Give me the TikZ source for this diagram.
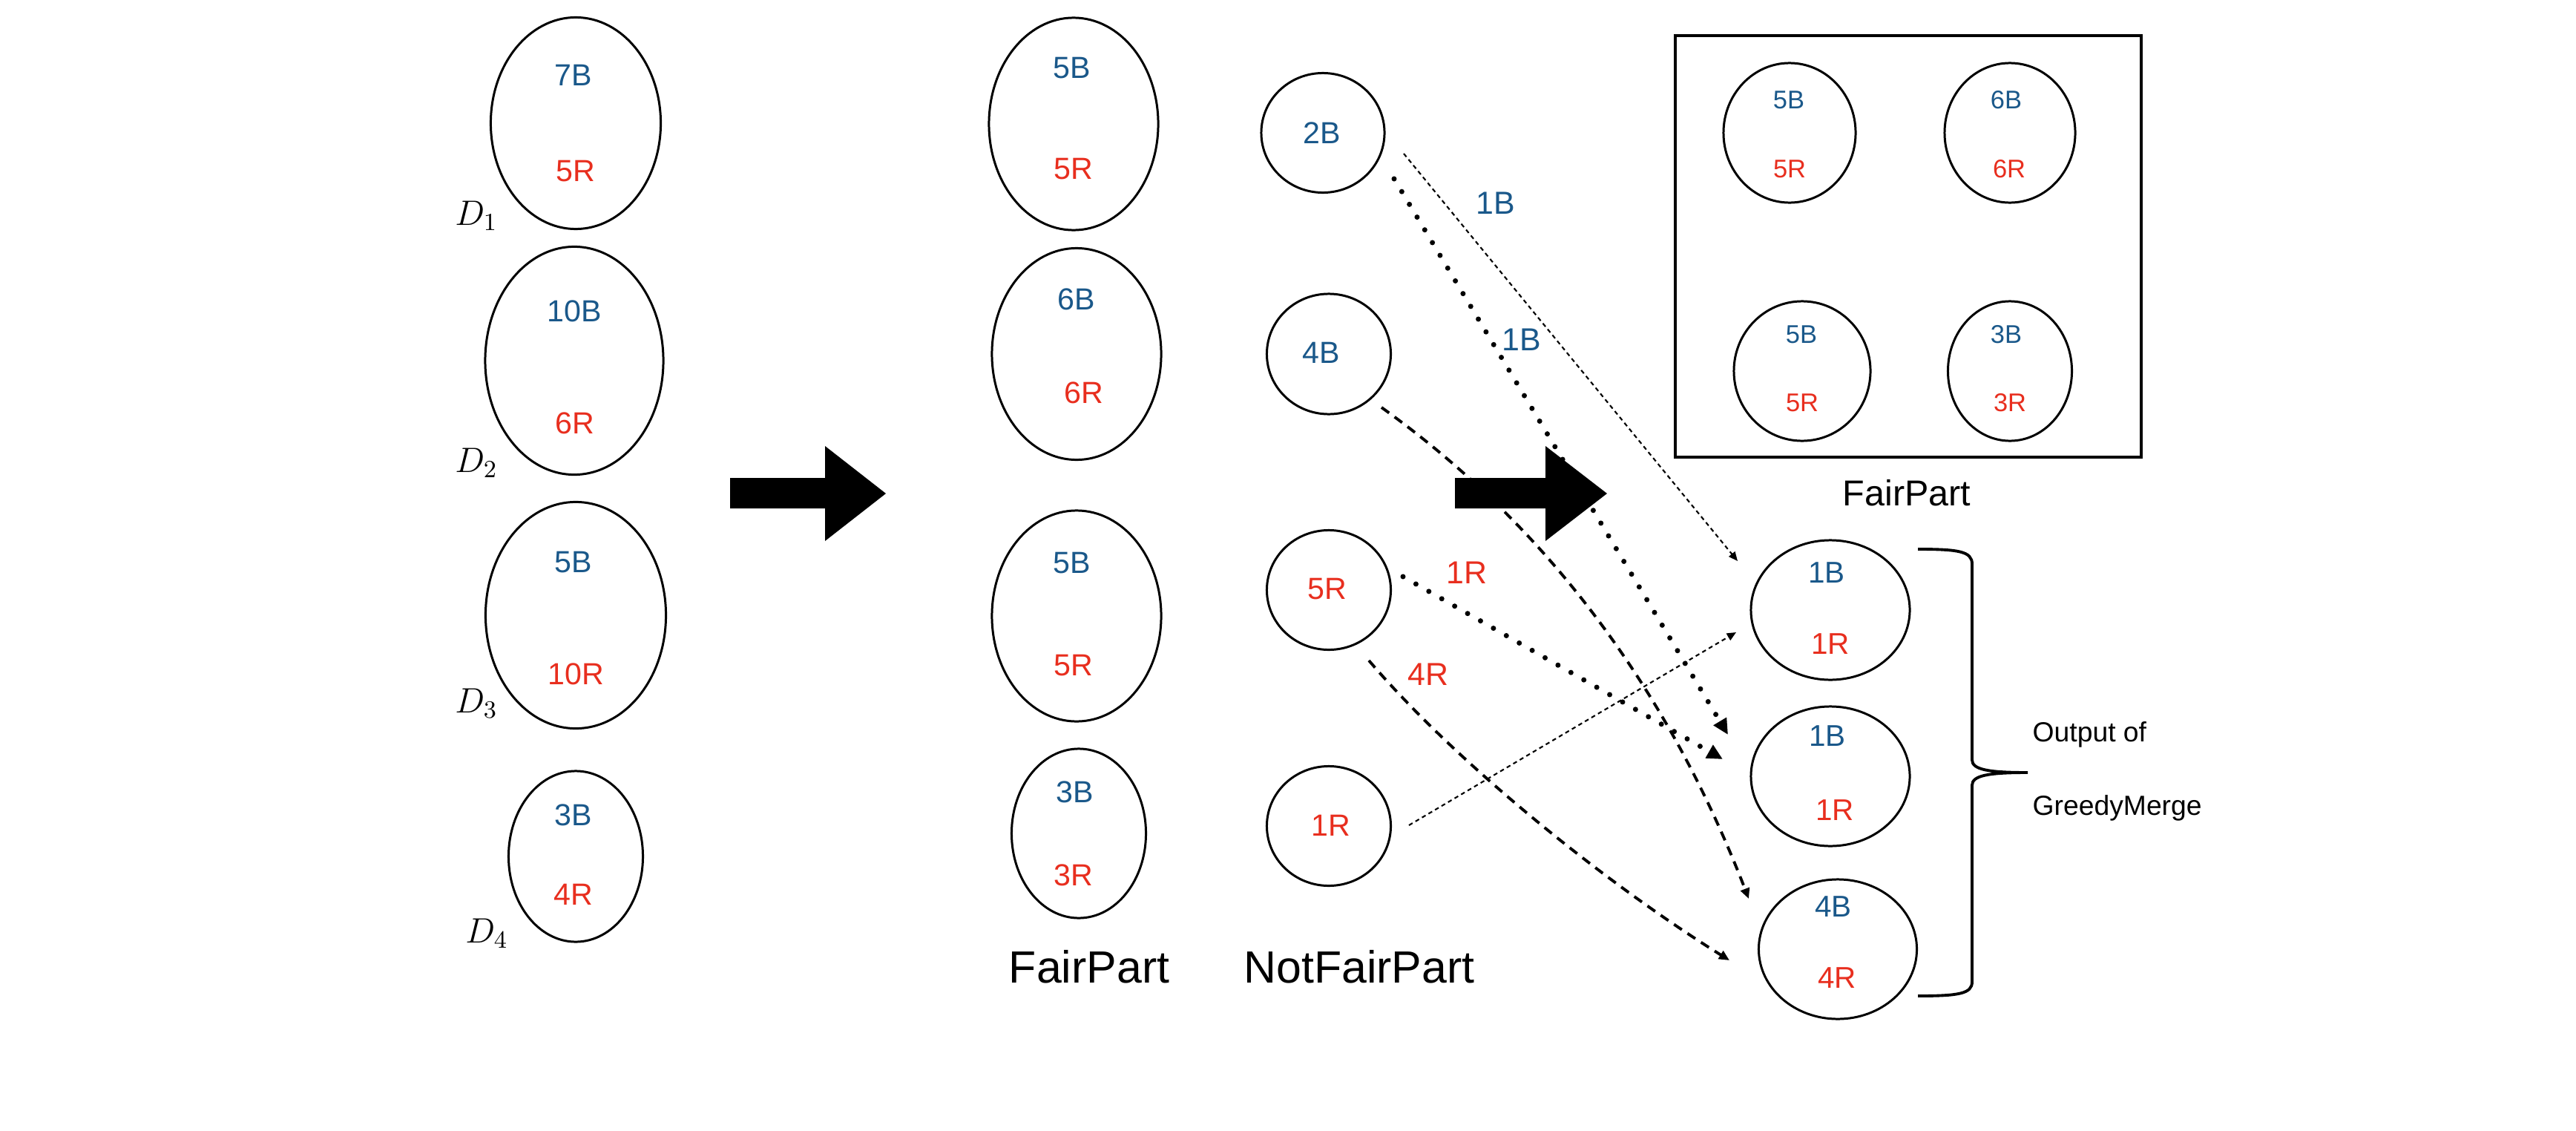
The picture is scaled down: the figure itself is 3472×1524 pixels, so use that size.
\documentclass[tikz,border=0pt]{standalone}
\usepackage{fix-cm}
\usepackage{fontspec}
\setmainfont{Liberation Sans}
\usetikzlibrary{shapes.geometric, arrows.meta}
\definecolor{myblue}{RGB}{26,88,138}
\definecolor{myred}{RGB}{232,46,30}
\begin{document}
\begin{tikzpicture}[x=0.01cm, y=-0.01cm,
  ell/.style={draw, ellipse, line width=0.85pt, inner sep=0pt},
  lab/.style={inner sep=0pt, font=\fontsize{11.7}{14}\selectfont},
  bl/.style={lab, text=myblue},
  rd/.style={lab, text=myred},
  sml/.style={font=\fontsize{9.8}{12}\selectfont},
  outl/.style={font=\fontsize{11.5}{14}\selectfont},
  conl/.style={font=\fontsize{12.2}{14}\selectfont},
  dlab/.style={inner sep=0pt, anchor=base, font=\fontsize{13.5}{16}\selectfont},
  bigt/.style={inner sep=0pt, anchor=base, font=\fontsize{17.3}{20}\selectfont},
  fdash/.style={line width=0.6pt, dash pattern=on 1.6pt off 1.3pt, -{Triangle[length=3.5pt,width=3pt]}},
  dotln/.style={line width=2pt, line cap=round, dash pattern=on 0pt off 5.7pt, -{Triangle[length=6pt,width=5.5pt]}},
  dashln/.style={line width=1.1pt, dash pattern=on 3.6pt off 2.6pt, -{Triangle[length=4pt,width=3.5pt]}},
  block/.style={fill=black}
]
\fill[white] (0,0) rectangle (3472,1524);
\useasboundingbox (0,0) rectangle (3472,1524);

% ---------- left column D1..D4
\node[ell, minimum width=2.29cm, minimum height=2.85cm] (d1) at (776,166) {};
\node[ell, minimum width=2.40cm, minimum height=3.07cm] (d2) at (774,486) {};
\node[ell, minimum width=2.43cm, minimum height=3.05cm] (d3) at (776,829) {};
\node[ell, minimum width=1.81cm, minimum height=2.30cm] (d4) at (776,1154) {};
\node[bl] (d1b) at (773,101) {7B};
\node[rd] (d1r) at (776,231) {5R};
\node[bl] (d2b) at (774,419) {10B};
\node[rd] (d2r) at (775,570) {6R};
\node[bl] (d3b) at (773,758) {5B};
\node[rd] (d3r) at (776,908) {10R};
\node[bl] (d4b) at (773,1098) {3B};
\node[rd] (d4r) at (773,1205) {4R};
\node[dlab] (dl1) at (642,303) {$D_1$};
\node[dlab] (dl2) at (642,636) {$D_2$};
\node[dlab] (dl3) at (642,960) {$D_3$};
\node[dlab] (dl4) at (656,1270) {$D_4$};

% ---------- middle FairPart column
\node[ell, minimum width=2.28cm, minimum height=2.86cm] (f1) at (1447,167) {};
\node[ell, minimum width=2.28cm, minimum height=2.85cm] (f2) at (1451,477) {};
\node[ell, minimum width=2.28cm, minimum height=2.84cm] (f3) at (1451,830) {};
\node[ell, minimum width=1.81cm, minimum height=2.28cm] (f4) at (1454,1123) {};
\node[bl] (f1b) at (1445,92) {5B};
\node[rd] (f1r) at (1447,228) {5R};
\node[bl] (f2b) at (1451,403) {6B};
\node[rd] (f2r) at (1461,529) {6R};
\node[bl] (f3b) at (1445,759) {5B};
\node[rd] (f3r) at (1447,897) {5R};
\node[bl] (f4b) at (1449,1067) {3B};
\node[rd] (f4r) at (1447,1179) {3R};
\node[bigt] (fairlab) at (1468,1324) {FairPart};

% ---------- NotFairPart column
\node[ell, minimum width=1.66cm, minimum height=1.61cm] (n1) at (1783,179) {};
\node[ell, minimum width=1.67cm, minimum height=1.62cm] (n2) at (1791,477) {};
\node[ell, minimum width=1.67cm, minimum height=1.61cm] (n3) at (1791,795) {};
\node[ell, minimum width=1.67cm, minimum height=1.61cm] (n4) at (1791,1113) {};
\node[bl] (n1t) at (1782,179) {2B};
\node[bl] (n2t) at (1781,475) {4B};
\node[rd] (n3t) at (1789,794) {5R};
\node[rd] (n4t) at (1794,1112) {1R};
\node[bigt] (notfairlab) at (1832,1324) {NotFairPart};

% ---------- right box (FairPart)
\node[draw, line width=1.1pt, minimum width=6.28cm, minimum height=5.68cm, inner sep=0pt] (box) at (2572,332) {};
\node[ell, minimum width=1.78cm, minimum height=1.88cm] (c1) at (2412,179) {};
\node[ell, minimum width=1.76cm, minimum height=1.88cm] (c2) at (2709,179) {};
\node[ell, minimum width=1.84cm, minimum height=1.88cm] (c3) at (2429,500) {};
\node[ell, minimum width=1.67cm, minimum height=1.88cm] (c4) at (2709,500) {};
\node[bl, sml] (c1b) at (2411,135) {5B};
\node[rd, sml] (c1r) at (2412,228) {5R};
\node[bl, sml] (c2b) at (2704,135) {6B};
\node[rd, sml] (c2r) at (2708,228) {6R};
\node[bl, sml] (c3b) at (2428,451) {5B};
\node[rd, sml] (c3r) at (2429,543) {5R};
\node[bl, sml] (c4b) at (2704,451) {3B};
\node[rd, sml] (c4r) at (2709,543) {3R};
\node[inner sep=0pt, anchor=base, font=\fontsize{13.8}{16}\selectfont] (boxlab) at (2570,681) {FairPart};

% ---------- output circles
\node[ell, minimum width=2.14cm, minimum height=1.88cm] (o1) at (2467,822) {};
\node[ell, minimum width=2.14cm, minimum height=1.88cm] (o2) at (2467,1046) {};
\node[ell, minimum width=2.13cm, minimum height=1.88cm] (o3) at (2477,1279) {};
\node[bl, outl] (o1b) at (2462,772) {1B};
\node[rd, outl] (o1r) at (2467,868) {1R};
\node[bl, outl] (o2b) at (2463,992) {1B};
\node[rd, outl] (o2r) at (2473,1092) {1R};
\node[bl, outl] (o3b) at (2471,1222) {4B};
\node[rd, outl] (o3r) at (2476,1318) {4R};

% brace
\coordinate (brtip) at (2733,1041);
\draw[line width=1.1pt] (2585,740) .. controls (2640,740) and (2658,743) .. (2658,760)
  -- (2658,1024) .. controls (2658,1037) and (2680,1041) .. (brtip)
  .. controls (2680,1041) and (2658,1045) .. (2658,1058)
  -- (2658,1323) .. controls (2658,1339) and (2640,1342) .. (2585,1342);
\node[inner sep=0pt, anchor=base west, font=\fontsize{10.6}{13}\selectfont] (outof) at (2739,999) {Output of};
\node[inner sep=0pt, anchor=base west, font=\fontsize{10.6}{13}\selectfont] (greedy) at (2739,1098) {GreedyMerge};

% ---------- connectors
\coordinate (a1s) at (1892,207);  \coordinate (a1e) at (2342,756);
\coordinate (a2s) at (1879,241);  \coordinate (a2e) at (2329,990);
\coordinate (a3s) at (1862,549);  \coordinate (a3e) at (2357,1211);
\coordinate (a4s) at (1891,777);  \coordinate (a4e) at (2322,1023);
\coordinate (a5s) at (1899,1112); \coordinate (a5e) at (2340,852);
\coordinate (a6s) at (1845,890);  \coordinate (a6e) at (2331,1294);

\draw[fdash] (a1s) -- (a1e);
\draw[dotln] (a2s) -- (a2e);
\draw[dashln] (a3s) .. controls (2150,755) and (2285,1025) .. (a3e);
\draw[dotln] (a4s) -- (a4e);
\draw[fdash] (a5s) -- (a5e);
\draw[dashln] (a6s) .. controls (1962,1027) and (2161,1188) .. (a6e);

\node[bl, conl] (l1) at (2016,274) {1B};
\node[bl, conl] (l2) at (2051,458) {1B};
\node[rd, conl] (l3) at (1977,772) {1R};
\node[rd, conl] (l4) at (1925,909) {4R};

% ---------- block arrows
\fill[block] (984,644) -- (1112,644) -- (1112,601) -- (1194,665) -- (1112,729) -- (1112,685) -- (984,685) -- cycle;
\fill[block] (1961,644) -- (2083,644) -- (2083,601) -- (2166,665) -- (2083,729) -- (2083,685) -- (1961,685) -- cycle;
\end{tikzpicture}
\end{document}
